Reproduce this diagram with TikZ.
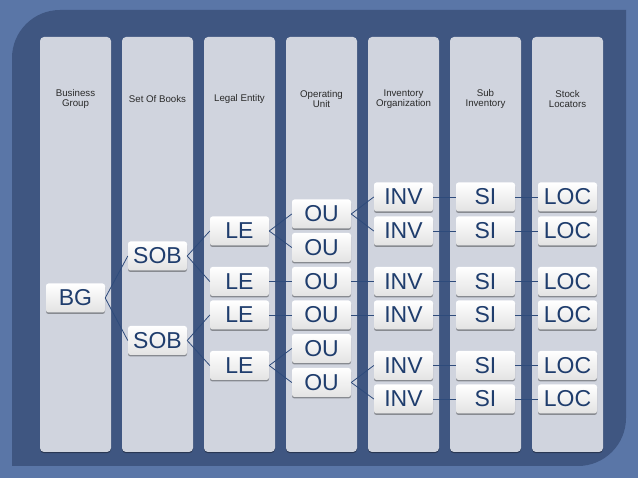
\documentclass[tikz,border=0pt]{standalone}
\usepackage{fontspec}
\setmainfont{Liberation Sans}
\usetikzlibrary{shadows}
\definecolor{outerbg}{HTML}{5A76A7}
\definecolor{panelbg}{HTML}{3F5681}
\definecolor{colbg}{HTML}{D0D4DE}
\definecolor{boxtext}{HTML}{1F3D6D}
\definecolor{linecol}{HTML}{2E4B7B}
\definecolor{headtext}{HTML}{2A2A2A}
\begin{document}
\begin{tikzpicture}[x=1pt,y=-1pt,
  box/.style={rounded corners=2.5pt, minimum width=59pt, minimum height=29pt, inner sep=0pt,
    top color=white, bottom color=black!11,
    drop shadow={shadow xshift=0pt, shadow yshift=-1.5pt, opacity=0.35, fill=black},
    text=boxtext, font=\fontsize{23}{23}\selectfont},
  head/.style={align=center, text=headtext, font=\fontsize{9.7}{10.5}\selectfont},
  lane/.style={fill=colbg, rounded corners=4pt,
    drop shadow={shadow xshift=0pt, shadow yshift=-1.2pt, opacity=0.35, fill=black}},
  link/.style={draw=linecol, line width=0.8pt}]
\useasboundingbox (0,0) rectangle (638,478);
\fill[outerbg] (0,0) rectangle (638,478);
\fill[panelbg] (12,58) .. controls (12,31.5) and (33.5,10) .. (60,10) -- (626,10) -- (626,418)
  .. controls (626,444.5) and (604.5,466) .. (578,466) -- (12,466) -- cycle;
\foreach \i in {0,...,6} {
  \path[lane] ({40+82*\i},37) rectangle ({111+82*\i},452);
}
% headers
\node[head] (h1) at (75.5,99) {Business\\Group};
\node[head] (h2) at (157.5,99) {Set Of Books};
\node[head] (h3) at (239.5,99) {Legal Entity};
\node[head] (h4) at (321.5,99) {Operating\\Unit};
\node[head] (h5) at (403.5,99) {Inventory\\Organization};
\node[head] (h6) at (485.5,99) {Sub\\Inventory};
\node[head] (h7) at (567.5,99) {Stock\\Locators};
% boxes
\node[box] (bg) at (75.5,298) {BG};
\node[box] (sob1) at (157.5,256) {SOB};
\node[box] (sob2) at (157.5,340.5) {SOB};
\node[box] (le1) at (239.5,231) {LE};
\node[box] (le2) at (239.5,281.5) {LE};
\node[box] (le3) at (239.5,315) {LE};
\node[box] (le4) at (239.5,365.5) {LE};
\node[box] (ou1) at (321.5,214) {OU};
\node[box] (ou2) at (321.5,247.5) {OU};
\node[box] (ou3) at (321.5,281.5) {OU};
\node[box] (ou4) at (321.5,315) {OU};
\node[box] (ou5) at (321.5,348.5) {OU};
\node[box] (ou6) at (321.5,382.5) {OU};
\foreach \n/\y in {1/197,2/231,3/281.5,4/315,5/365.5,6/399} {
  \node[box] (inv\n) at (403.5,\y) {INV};
  \node[box] (si\n) at (485.5,\y) {SI};
  \node[box] (loc\n) at (567.5,\y) {LOC};
}
% connectors
\foreach \a/\b in {bg/sob1,bg/sob2,sob1/le1,sob1/le2,sob2/le3,sob2/le4,
  le1/ou1,le1/ou2,le2/ou3,le3/ou4,le4/ou5,le4/ou6,
  ou1/inv1,ou1/inv2,ou3/inv3,ou4/inv4,ou6/inv5,ou6/inv6} {
  \draw[link] (\a.east) -- (\b.west);
}
\foreach \n in {1,...,6} {
  \draw[link] (inv\n.east) -- (si\n.west);
  \draw[link] (si\n.east) -- (loc\n.west);
}
\end{tikzpicture}
\end{document}
